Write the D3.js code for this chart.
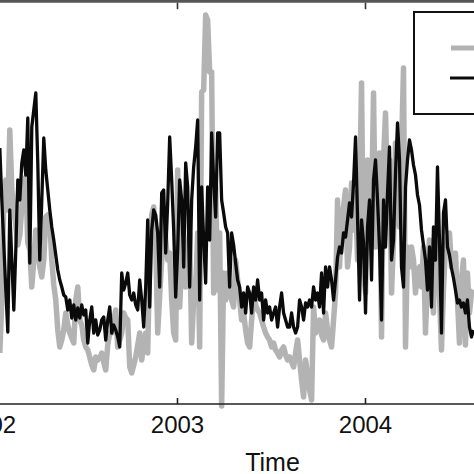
<!DOCTYPE html>
<html><head><meta charset="utf-8">
<script src="https://cdn.jsdelivr.net/npm/d3@7"></script>
<style>html,body{margin:0;padding:0;background:#fff;overflow:hidden}svg{display:block}</style>
</head><body><svg id="c" width="474" height="474"></svg>
<script>
// sampling of the series (regular time steps)
const startDate = [2002, 0, 22];
const stepDays = 3.88;
const yearTicks = [2002, 2003, 2004];
const xLabel = "Time";

const grayValues = [
5.1,10.4,20.4,22.4,19.4,27.4,21.4,19.4,17.9,15.9,
16.9,19.7,21.9,22.7,16.1,15.4,11.7,14.4,17.4,15.4,
13.7,12.7,14.4,18.7,18.9,18.4,14.4,11.9,10.4,7.4,
5.7,6.4,7.4,9.1,7.9,7.1,6.6,6.1,10.4,11.7,
8.4,7.9,6.4,5.7,5.4,4.7,3.9,3.4,4.7,4.4,
4.6,5.1,4.2,3.4,5.9,7.1,7.1,8.4,9.4,5.7,
6.4,7.1,9.1,8.6,8.4,3.7,3.1,3.9,4.7,5.9,
7.1,4.4,5.9,7.1,5.1,14.7,18.9,19.7,16.4,7.1,
10.9,14.4,19.1,16.4,14.4,15.1,10.4,7.1,6.4,23.4,
9.7,14.4,12.9,11.7,15.4,17.1,6.1,10.4,11.1,17.1,
5.7,31.2,31.4,38.9,38.4,33.2,33.2,11.1,21.7,11.4,
17.1,-0.2,13.1,10.4,13.1,11.4,10.4,9.7,14.4,12.4,
10.4,8.4,9.1,7.4,6.1,5.7,8.4,11.1,9.9,9.4,
9.1,8.4,7.7,7.1,6.7,6.4,5.7,6.1,5.4,5.1,
4.7,5.4,5.7,4.9,4.4,4.7,4.2,3.7,5.1,6.4,
4.4,2.4,0.7,4.4,2.9,1.4,0.4,9.7,7.1,7.9,
8.4,6.9,6.4,9.1,7.4,6.4,5.7,8.4,11.1,20.4,
13.7,18.4,19.7,21.4,13.7,15.7,22.1,17.4,21.1,14.4,
20.4,32.1,13.1,11.1,24.4,15.7,19.1,31.1,15.7,20.4,
25.1,6.7,24.4,29.1,20.4,24.4,11.1,16.4,26.1,20.4,
17.7,25.4,33.6,5.7,15.7,13.7,15.7,14.4,11.1,13.4,
13.7,11.7,15.7,7.1,12.4,16.4,12.4,9.1,17.1,13.9,
11.1,5.4,11.4,15.7,16.4,17.1,13.7,14.6,15.1,10.4,
6.1,12.4,14.4,5.9,13.1,9.1,11.1,11.4
];

const blackValues = [
25.6,20.4,15.9,11.4,7.2,19.4,14.4,9.4,15.4,22.4,
20.4,24.1,25.4,22.9,28.6,14.1,27.7,29.4,31.1,24.1,
14.4,20.4,26.6,23.4,21.4,19.4,17.7,16.4,14.9,13.4,
12.4,11.7,10.9,10.7,9.4,10.4,8.6,9.9,8.4,9.6,
8.6,9.9,8.9,9.4,6.1,8.4,9.7,7.1,8.4,6.9,
7.4,8.4,8.7,6.4,8.4,9.7,7.1,7.9,7.4,6.7,
5.7,13.1,11.4,12.1,13.1,10.9,10.4,11.1,9.9,9.4,
12.4,10.4,7.7,11.7,18.4,9.7,17.4,19.4,18.9,17.1,
11.7,21.1,21.4,15.1,20.1,26.7,22.4,17.4,10.7,15.4,
22.4,20.4,13.7,24.1,21.7,11.7,20.4,23.7,25.7,28.4,
10.4,21.7,16.4,12.1,21.7,16.4,27.1,22.4,18.7,27.1,
27.1,20.4,19.1,17.7,17.1,11.7,17.1,15.9,14.1,12.4,
11.7,9.7,11.1,9.1,11.7,11.1,9.1,11.7,10.4,12.4,
10.4,11.1,8.4,10.4,9.1,9.7,8.4,9.1,9.7,7.7,
9.7,11.1,9.1,8.4,7.7,7.7,9.1,7.7,7.1,7.7,
10.4,9.7,8.4,10.1,9.7,10.4,9.7,11.7,10.4,11.1,
9.7,13.1,9.1,13.7,11.7,13.7,12.4,10.4,12.4,14.7,
15.7,15.1,17.1,16.7,18.4,20.1,18.7,22.1,26.7,18.7,
10.4,18.4,16.1,9.1,17.7,20.4,12.4,22.4,24.4,20.4,
15.7,8.4,20.4,15.7,21.1,25.7,14.4,16.4,23.1,28.1,
24.4,13.7,11.7,21.7,24.4,26.4,25.4,23.9,22.9,20.9,
19.9,17.4,15.9,14.4,11.4,15.7,9.7,17.7,14.4,23.7,
16.4,7.1,19.1,20.4,15.7,14.9,13.6,12.6,11.4,10.1,
10.4,9.7,10.1,9.1,10.4,7.7,6.7,7.4
];

const t0 = new Date(startDate[0], startDate[1], startDate[2]);
const dayMs = 86400000;
const dateAt = i => new Date(t0.getTime() + i * stepDays * dayMs);

const svg = d3.select("#c");
const W = 474, H = 474;
const axisY = 404, topY = 2;

const xScale = d3.scaleTime()
  .domain([new Date(2003, 0, 1), new Date(2004, 0, 1)])
  .range([177, 365]);
const yScale = d3.scaleLinear().domain([0, 40.2]).range([axisY, topY]);

const lineGen = d3.line()
  .x((d, i) => xScale(dateAt(i)))
  .y(d => yScale(d));

svg.append("path").datum(grayValues)
  .attr("d", lineGen).attr("fill", "none")
  .attr("stroke", "#b3b3b3").attr("stroke-width", 5.5)
  .attr("stroke-linejoin", "round");

svg.append("path").datum(blackValues)
  .attr("d", lineGen).attr("fill", "none")
  .attr("stroke", "#0a0a0a").attr("stroke-width", 3.3)
  .attr("stroke-linejoin", "round");

// frame lines
svg.append("line").attr("x1", 0).attr("x2", W).attr("y1", 1.3).attr("y2", 1.3)
  .attr("stroke", "#555").attr("stroke-width", 2.8);
svg.append("line").attr("x1", 0).attr("x2", W).attr("y1", axisY).attr("y2", axisY)
  .attr("stroke", "#222").attr("stroke-width", 1.6);

const tickDates = yearTicks.map(yr => new Date(yr, 0, 1));

const bottomAxis = svg.append("g").attr("transform", `translate(0,${axisY})`)
  .call(d3.axisBottom(xScale).tickValues(tickDates).tickFormat(d3.timeFormat("%Y"))
    .tickSizeInner(-6).tickSizeOuter(0));
bottomAxis.select(".domain").remove();
bottomAxis.selectAll(".tick line").attr("stroke", "#222").attr("stroke-width", 1.6);
bottomAxis.selectAll(".tick text")
  .attr("y", 29).attr("dy", 0)
  .attr("fill", "#111")
  .attr("font-family", "'Liberation Sans', Arial, sans-serif")
  .attr("font-size", 24);

const topAxis = svg.append("g").attr("transform", `translate(0,${topY + 0.7})`)
  .call(d3.axisTop(xScale).tickValues(tickDates).tickFormat("")
    .tickSizeInner(-6.5).tickSizeOuter(0));
topAxis.select(".domain").remove();
topAxis.selectAll(".tick line").attr("stroke", "#333").attr("stroke-width", 1.6);

svg.append("text").attr("x", 272.5).attr("y", 471)
  .attr("text-anchor", "middle")
  .attr("font-family", "'Liberation Sans', Arial, sans-serif")
  .attr("font-size", 25).attr("fill", "#111")
  .text(xLabel);

// legend (labels fall outside the visible area)
const lg = svg.append("g");
lg.append("rect").attr("x", 414).attr("y", 12).attr("width", 80).attr("height", 102)
  .attr("fill", "#fff").attr("stroke", "#111").attr("stroke-width", 2);
lg.append("line").attr("x1", 451).attr("x2", 490).attr("y1", 48).attr("y2", 48)
  .attr("stroke", "#b3b3b3").attr("stroke-width", 5);
lg.append("line").attr("x1", 450).attr("x2", 490).attr("y1", 78).attr("y2", 78)
  .attr("stroke", "#0a0a0a").attr("stroke-width", 2.8);
</script>
</body></html>
